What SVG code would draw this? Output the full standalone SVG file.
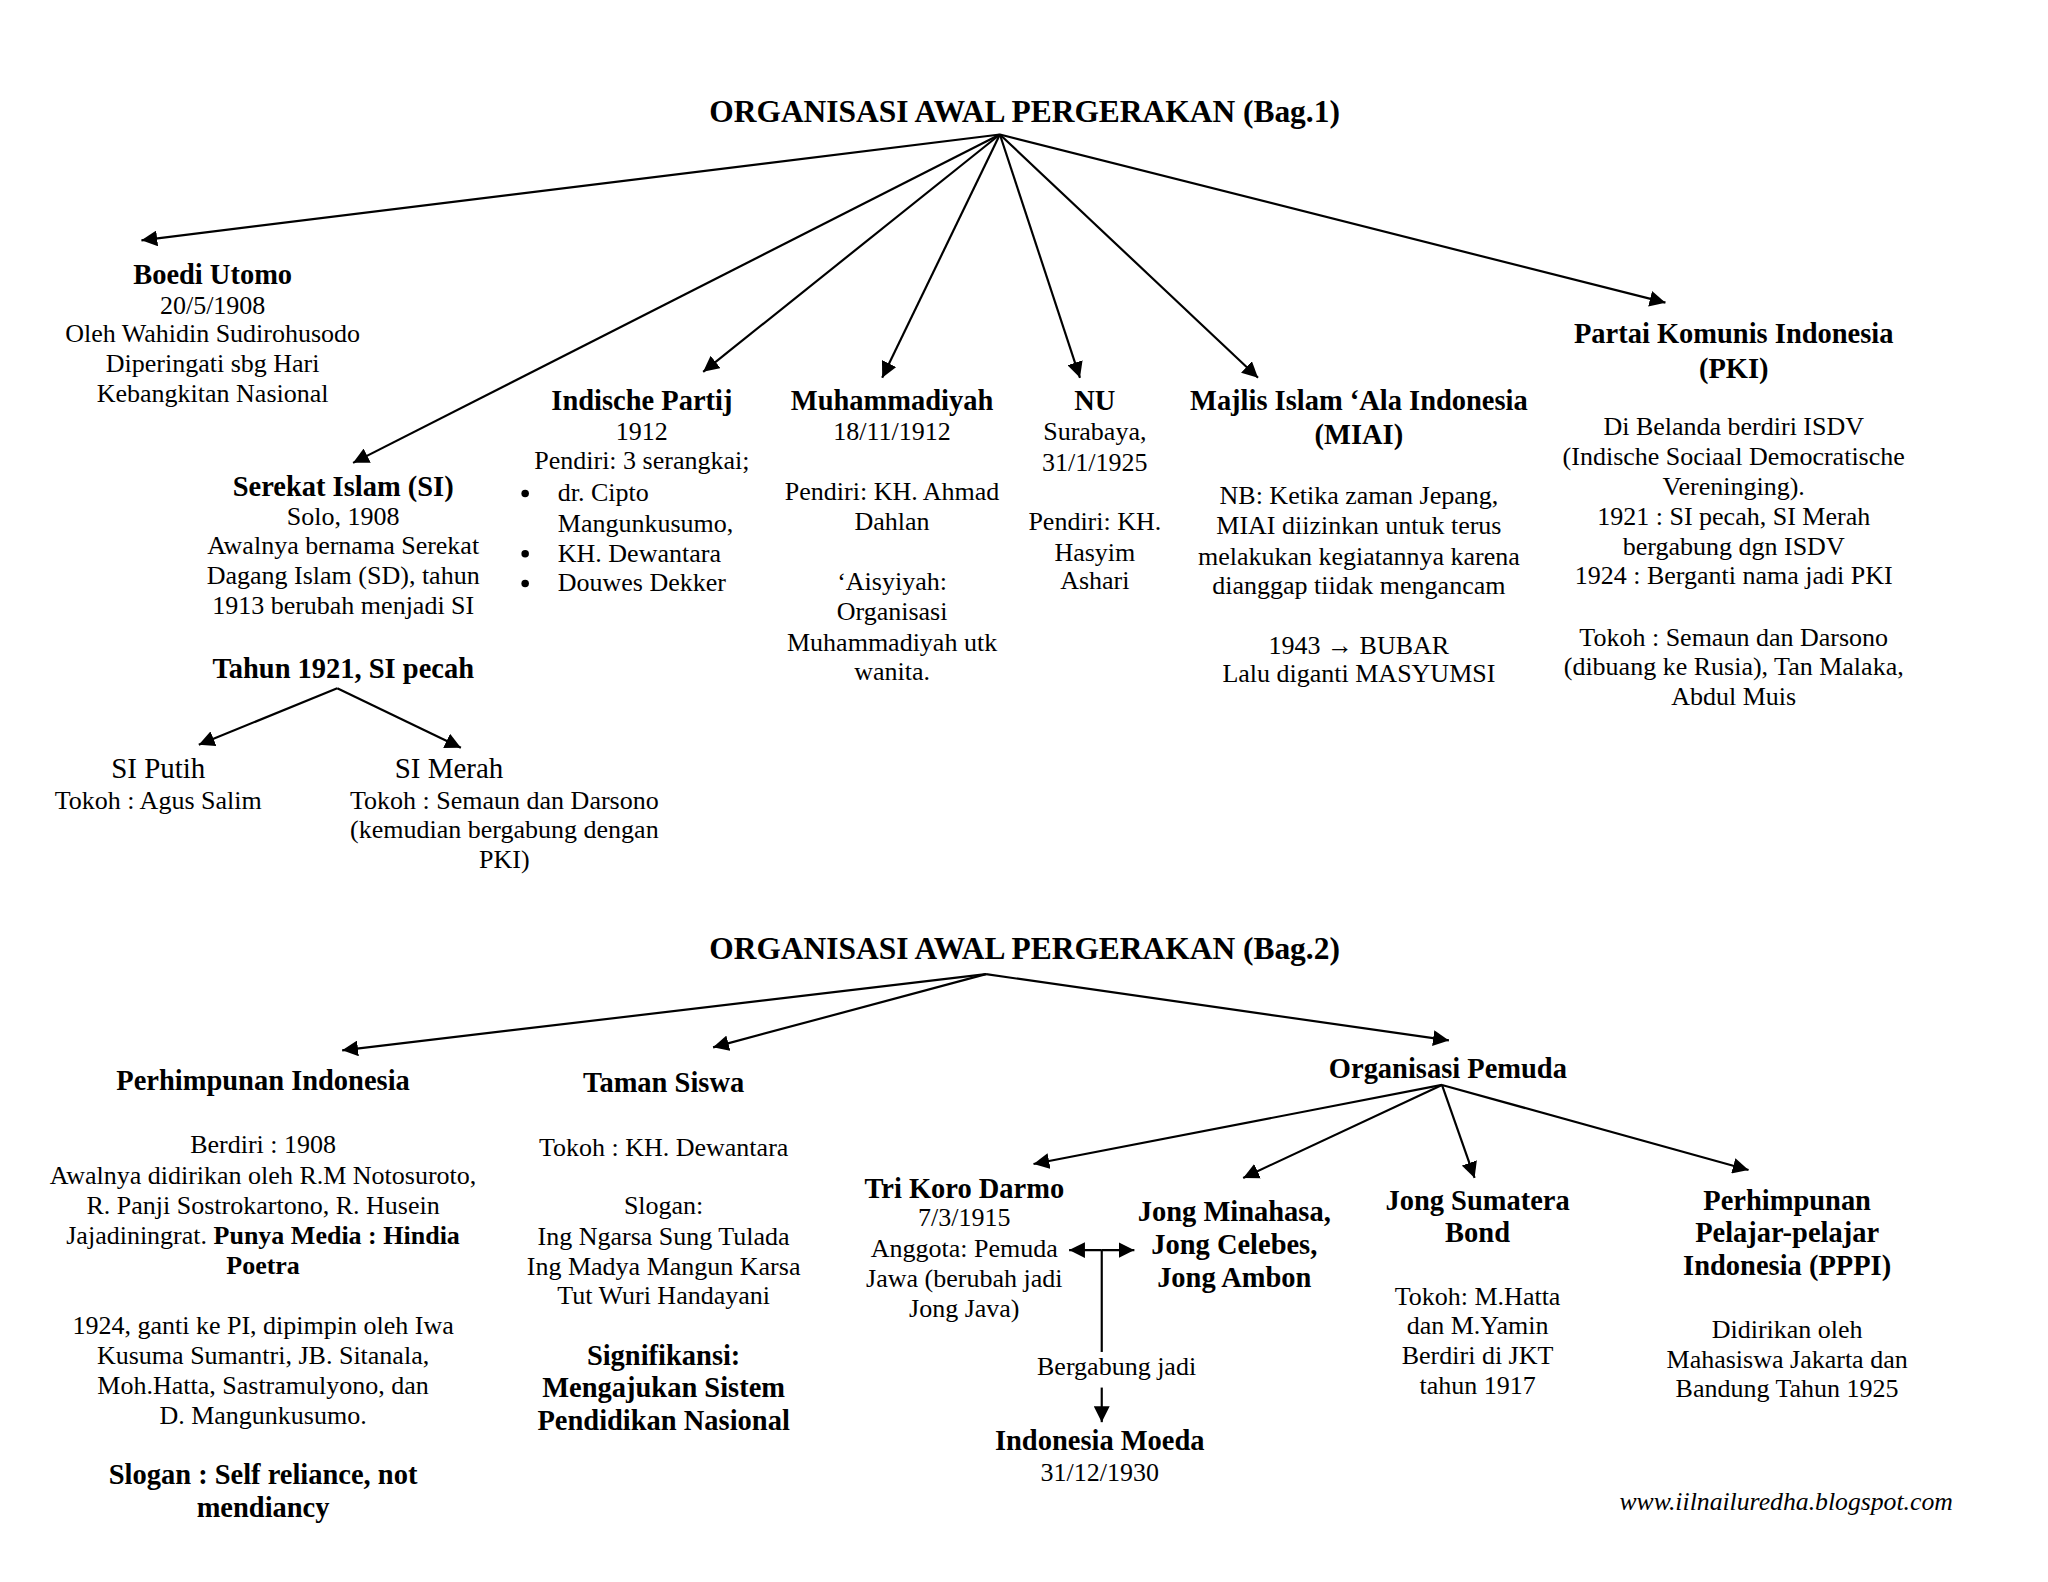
<svg xmlns="http://www.w3.org/2000/svg" width="2048" height="1582" viewBox="0 0 2048 1582">
<defs>
<marker id="ah" viewBox="0 0 10 10" refX="10" refY="5" markerWidth="16" markerHeight="16" markerUnits="userSpaceOnUse" orient="auto-start-reverse"><path d="M0,0 L10,5 L0,10 z" fill="#000"/></marker>
<style>
text{font-family:"Liberation Serif","Times New Roman",serif;font-size:26.3px;fill:#000;text-anchor:middle}
.t{font-size:31.8px;font-weight:bold}
.h{font-size:28.8px;font-weight:bold}
.b{font-weight:bold}
.l{text-anchor:start}
.s{font-size:29.3px}
.u{font-style:italic;font-size:26px}
line{stroke:#000;stroke-width:2.2;marker-end:url(#ah)}
</style>
</defs>
<rect width="2048" height="1582" fill="#fff"/>
<g transform="scale(0.989)">
<g id="connectors">
<line x1="1011" y1="136" x2="143" y2="243"/>
<line x1="1011" y1="136" x2="357" y2="468"/>
<line x1="1011" y1="136" x2="711" y2="376"/>
<line x1="1011" y1="136" x2="892" y2="382"/>
<line x1="1011" y1="136" x2="1092" y2="382"/>
<line x1="1011" y1="136" x2="1272" y2="382"/>
<line x1="1011" y1="136" x2="1684" y2="306"/>
<line x1="341" y1="696" x2="201" y2="753"/>
<line x1="341" y1="696" x2="466" y2="756"/>
<line x1="997" y1="985" x2="346" y2="1062"/>
<line x1="997" y1="985" x2="721" y2="1059"/>
<line x1="997" y1="985" x2="1465" y2="1052"/>
<line x1="1458" y1="1097" x2="1045" y2="1177"/>
<line x1="1458" y1="1097" x2="1257" y2="1191"/>
<line x1="1458" y1="1097" x2="1491" y2="1191"/>
<line x1="1458" y1="1097" x2="1768" y2="1183"/>
<line x1="1114" y1="1264" x2="1081" y2="1264"/>
<line x1="1114" y1="1264" x2="1147" y2="1264"/>
<line x1="1114" y1="1264" x2="1114" y2="1367" style="marker-end:none"/>
<line x1="1114" y1="1403" x2="1114" y2="1438"/>
</g>
<g id="title1"><text class="t" x="1036" y="123">ORGANISASI AWAL PERGERAKAN (Bag.1)</text></g>
<g id="boedi">
<text class="h" x="215" y="287">Boedi Utomo</text>
<text x="215" y="317">20/5/1908</text>
<text x="215" y="346">Oleh Wahidin Sudirohusodo</text>
<text x="215" y="376">Diperingati sbg Hari</text>
<text x="215" y="406">Kebangkitan Nasional</text>
</g>
<g id="si">
<text class="h" x="347" y="502">Serekat Islam (SI)</text>
<text x="347" y="531">Solo, 1908</text>
<text x="347" y="560">Awalnya bernama Serekat</text>
<text x="347" y="590">Dagang Islam (SD), tahun</text>
<text x="347" y="621">1913 berubah menjadi SI</text>
<text class="h" x="347" y="686">Tahun 1921, SI pecah</text>
</g>
<g id="siputih">
<text class="s" x="160" y="787">SI Putih</text>
<text x="160" y="818">Tokoh : Agus Salim</text>
</g>
<g id="simerah">
<text class="s" x="454" y="787">SI Merah</text>
<text x="510" y="818">Tokoh : Semaun dan Darsono</text>
<text x="510" y="847">(kemudian bergabung dengan</text>
<text x="510" y="878">PKI)</text>
</g>
<g id="indische">
<text class="h" x="649" y="415">Indische Partij</text>
<text x="649" y="445">1912</text>
<text x="649" y="474">Pendiri: 3 serangkai;</text>
<circle cx="531" cy="499" r="3.8"/><text class="l" x="564" y="507">dr. Cipto</text>
<text class="l" x="564" y="538">Mangunkusumo,</text>
<circle cx="531" cy="560" r="3.8"/><text class="l" x="564" y="568">KH. Dewantara</text>
<circle cx="531" cy="590" r="3.8"/><text class="l" x="564" y="598">Douwes Dekker</text>
</g>
<g id="muhammadiyah">
<text class="h" x="902" y="415">Muhammadiyah</text>
<text x="902" y="445">18/11/1912</text>
<text x="902" y="506">Pendiri: KH. Ahmad</text>
<text x="902" y="536">Dahlan</text>
<text x="902" y="597">‘Aisyiyah:</text>
<text x="902" y="627">Organisasi</text>
<text x="902" y="658">Muhammadiyah utk</text>
<text x="902" y="688">wanita.</text>
</g>
<g id="nu">
<text class="h" x="1107" y="415">NU</text>
<text x="1107" y="445">Surabaya,</text>
<text x="1107" y="476">31/1/1925</text>
<text x="1107" y="536">Pendiri: KH.</text>
<text x="1107" y="567">Hasyim</text>
<text x="1107" y="596">Ashari</text>
</g>
<g id="miai">
<text class="h" x="1374" y="415">Majlis Islam ‘Ala Indonesia</text>
<text class="h" x="1374" y="449">(MIAI)</text>
<text x="1374" y="510">NB: Ketika zaman Jepang,</text>
<text x="1374" y="540">MIAI diizinkan untuk terus</text>
<text x="1374" y="571">melakukan kegiatannya karena</text>
<text x="1374" y="601">dianggap tiidak mengancam</text>
<text x="1374" y="661">1943 → BUBAR</text>
<text x="1374" y="690">Lalu diganti MASYUMSI</text>
</g>
<g id="pki">
<text class="h" x="1753" y="347">Partai Komunis Indonesia</text>
<text class="h" x="1753" y="382">(PKI)</text>
<text x="1753" y="440">Di Belanda berdiri ISDV</text>
<text x="1753" y="470">(Indische Sociaal Democratische</text>
<text x="1753" y="501">Vereninging).</text>
<text x="1753" y="531">1921 : SI pecah, SI Merah</text>
<text x="1753" y="561">bergabung dgn ISDV</text>
<text x="1753" y="591">1924 : Berganti nama jadi PKI</text>
<text x="1753" y="653">Tokoh : Semaun dan Darsono</text>
<text x="1753" y="683">(dibuang ke Rusia), Tan Malaka,</text>
<text x="1753" y="713">Abdul Muis</text>
</g>
<g id="title2"><text class="t" x="1036" y="970">ORGANISASI AWAL PERGERAKAN (Bag.2)</text></g>
<g id="pi">
<text class="h" x="266" y="1102">Perhimpunan Indonesia</text>
<text x="266" y="1166">Berdiri : 1908</text>
<text x="266" y="1197">Awalnya didirikan oleh R.M Notosuroto,</text>
<text x="266" y="1227">R. Panji Sostrokartono, R. Husein</text>
<text x="266" y="1258">Jajadiningrat. <tspan class="b">Punya Media : Hindia</tspan></text>
<text class="b" x="266" y="1288">Poetra</text>
<text x="266" y="1349">1924, ganti ke PI, dipimpin oleh Iwa</text>
<text x="266" y="1379">Kusuma Sumantri, JB. Sitanala,</text>
<text x="266" y="1410">Moh.Hatta, Sastramulyono, dan</text>
<text x="266" y="1440">D. Mangunkusumo.</text>
<text class="h" x="266" y="1501">Slogan : Self reliance, not</text>
<text class="h" x="266" y="1534">mendiancy</text>
</g>
<g id="tamansiswa">
<text class="h" x="671" y="1104">Taman Siswa</text>
<text x="671" y="1169">Tokoh : KH. Dewantara</text>
<text x="671" y="1228">Slogan:</text>
<text x="671" y="1259">Ing Ngarsa Sung Tulada</text>
<text x="671" y="1289">Ing Madya Mangun Karsa</text>
<text x="671" y="1318">Tut Wuri Handayani</text>
<text class="h" x="671" y="1380">Signifikansi:</text>
<text class="h" x="671" y="1413">Mengajukan Sistem</text>
<text class="h" x="671" y="1446">Pendidikan Nasional</text>
</g>
<g id="pemuda"><text class="h" x="1464" y="1090">Organisasi Pemuda</text></g>
<g id="trikoro">
<text class="h" x="975" y="1211">Tri Koro Darmo</text>
<text x="975" y="1240">7/3/1915</text>
<text x="975" y="1271">Anggota: Pemuda</text>
<text x="975" y="1301">Jawa (berubah jadi</text>
<text x="975" y="1332">Jong Java)</text>
</g>
<g id="bergabung"><text x="1129" y="1390">Bergabung jadi</text></g>
<g id="moeda">
<text class="h" x="1112" y="1466">Indonesia Moeda</text>
<text x="1112" y="1497">31/12/1930</text>
</g>
<g id="minahasa">
<text class="h" x="1248" y="1235">Jong Minahasa,</text>
<text class="h" x="1248" y="1268">Jong Celebes,</text>
<text class="h" x="1248" y="1301">Jong Ambon</text>
</g>
<g id="sumatera">
<text class="h" x="1494" y="1223">Jong Sumatera</text>
<text class="h" x="1494" y="1256">Bond</text>
<text x="1494" y="1320">Tokoh: M.Hatta</text>
<text x="1494" y="1349">dan M.Yamin</text>
<text x="1494" y="1379">Berdiri di JKT</text>
<text x="1494" y="1410">tahun 1917</text>
</g>
<g id="pppi">
<text class="h" x="1807" y="1223">Perhimpunan</text>
<text class="h" x="1807" y="1256">Pelajar-pelajar</text>
<text class="h" x="1807" y="1289">Indonesia (PPPI)</text>
<text x="1807" y="1353">Didirikan oleh</text>
<text x="1807" y="1383">Mahasiswa Jakarta dan</text>
<text x="1807" y="1413">Bandung Tahun 1925</text>
</g>
<g id="url"><text class="u" x="1806" y="1527">www.iilnailuredha.blogspot.com</text></g>
</g>
</svg>
